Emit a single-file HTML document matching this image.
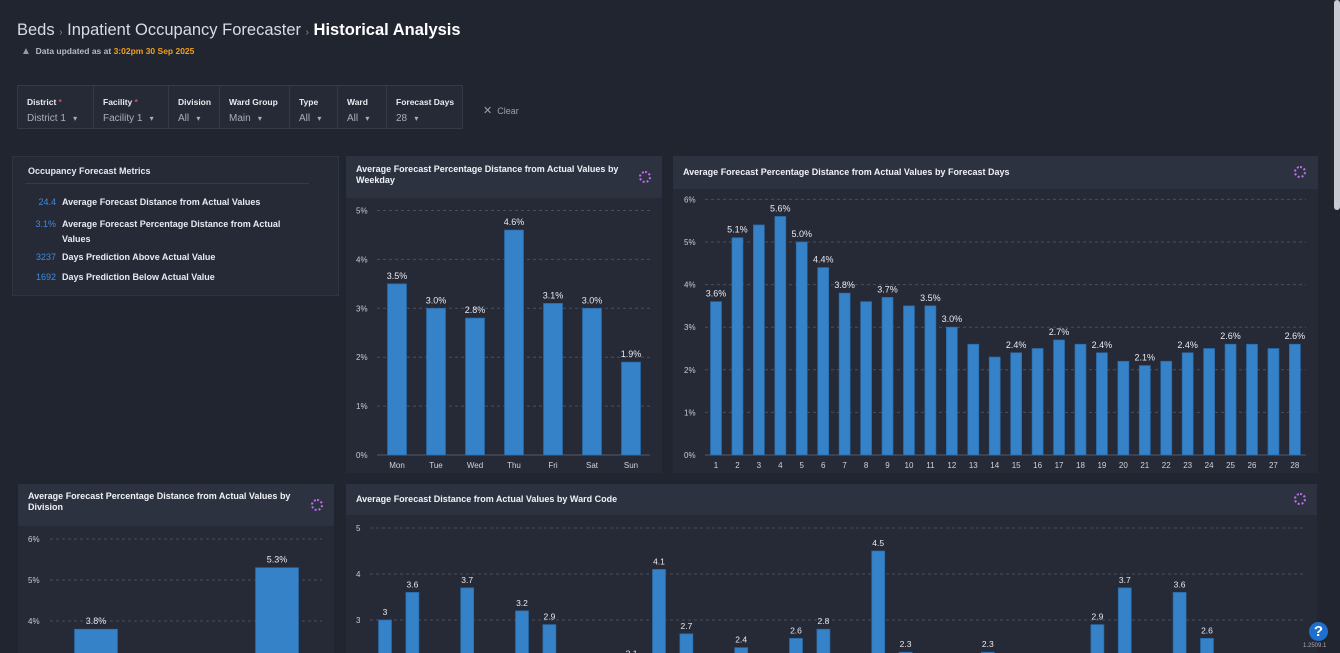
<!DOCTYPE html>
<html><head><meta charset="utf-8"><style>
*{margin:0;padding:0;box-sizing:border-box}
html,body{width:1340px;height:653px;overflow:hidden}
body{background:#21252f;font-family:"Liberation Sans",sans-serif;color:#e6e8ee;position:relative}
.abs{position:absolute}
.panel{position:absolute;background:#262a37;overflow:hidden}
.hdr{position:absolute;left:0;right:0;top:0;background:#2d3241;font-weight:bold;font-size:9px;color:#f0f2f6;padding:0 10px;line-height:11px}
.spin{position:absolute;width:12px;height:12px;border:2px dotted #c46cf0;border-radius:50%}
.f{position:absolute;top:0;height:42px;border-right:1px solid #353a48;padding:11px 9px;white-space:nowrap}
.f b{display:block;font-size:8.5px;color:#e8eaf0}
.f span{display:block;font-size:10px;color:#a9aebb;margin-top:6px}
.f span.d:after{content:" ▾";font-size:8px;margin-left:5px}
.m{position:absolute;left:15px;font-size:9px;font-weight:bold;color:#e8eaf0}
.m i{font-style:normal;color:#3a8ce0;font-weight:normal;display:inline-block;width:28px;text-align:right;margin-right:6px}
svg text{font-family:"Liberation Sans",sans-serif}
</style></head><body>
<div class="abs" style="left:17px;top:21px;font-size:16.5px;color:#d8dbe3;white-space:nowrap">Beds <span style="font-size:10px;color:#888">›</span> Inpatient Occupancy Forecaster <span style="font-size:10px;color:#888">›</span> <b style="color:#fff">Historical Analysis</b></div>
<div class="abs" style="left:21px;top:46px;font-size:8.5px;color:#b5b9c4;font-weight:bold;white-space:nowrap"><span style="color:#999;font-size:10px">▲</span>&nbsp;&nbsp;Data updated as at <span style="color:#f0a020">3:02pm 30 Sep 2025</span></div>
<div class="abs" style="left:17px;top:85px;width:446px;height:44px;background:#252a36;border:1px solid #353a48">
<div class="f" style="left:0;width:76px"><b>District <span style="display:inline;color:#e05050;font-size:8px">*</span></b><span class="d">District 1</span></div>
<div class="f" style="left:76px;width:75px"><b>Facility <span style="display:inline;color:#e05050;font-size:8px">*</span></b><span class="d">Facility 1</span></div>
<div class="f" style="left:151px;width:51px"><b>Division</b><span class="d">All</span></div>
<div class="f" style="left:202px;width:70px"><b>Ward Group</b><span class="d">Main</span></div>
<div class="f" style="left:272px;width:48px"><b>Type</b><span class="d">All</span></div>
<div class="f" style="left:320px;width:49px"><b>Ward</b><span class="d">All</span></div>
<div class="f" style="left:369px;width:76px;border:none"><b>Forecast Days</b><span class="d">28</span></div>
</div>
<div class="abs" style="left:483px;top:104px;font-size:9px;color:#9aa0ad"><span style="font-size:11px">✕</span>&nbsp; Clear</div>

<div class="panel" style="left:12px;top:156px;width:327px;height:140px;border:1px solid #2f3442">
<div class="abs" style="left:15px;top:9px;font-size:9px;font-weight:bold">Occupancy Forecast Metrics</div>
<div class="abs" style="left:12px;top:26px;width:284px;height:1px;background:#363b4a"></div>
<div class="m" style="top:40px"><i>24.4</i>Average Forecast Distance from Actual Values</div>
<div class="m" style="top:60px;line-height:15px;width:280px;padding-left:34px;text-indent:-34px"><i>3.1%</i>Average Forecast Percentage Distance from Actual Values</div>
<div class="m" style="top:95px"><i>3237</i>Days Prediction Above Actual Value</div>
<div class="m" style="top:115px"><i>1692</i>Days Prediction Below Actual Value</div>
</div>

<div class="panel" style="left:346px;top:156px;width:316px;height:317px"><div class="hdr" style="height:42px;padding-top:8px">Average Forecast Percentage Distance from Actual Values by Weekday</div><div class="spin" style="left:293px;top:15px"></div></div>
<div class="panel" style="left:673px;top:156px;width:645px;height:317px"><div class="hdr" style="height:33px;padding-top:11px">Average Forecast Percentage Distance from Actual Values by Forecast Days</div><div class="spin" style="left:621px;top:10px"></div></div>
<div class="panel" style="left:18px;top:484px;width:316px;height:169px"><div class="hdr" style="height:42px;padding-top:7px">Average Forecast Percentage Distance from Actual Values by Division</div><div class="spin" style="left:293px;top:15px"></div></div>
<div class="panel" style="left:346px;top:484px;width:971px;height:169px"><div class="hdr" style="height:31px;padding-top:10px">Average Forecast Distance from Actual Values by Ward Code</div><div class="spin" style="left:948px;top:9px"></div></div>

<svg class="abs" style="left:0;top:0" width="1340" height="653" font-size="8.5">
<g id="wk"></g><g id="fd"></g><g id="dv"></g><g id="wc"></g>
</svg>
<div class="abs" style="left:1334px;top:0;width:6px;height:210px;background:#c8ccd4;border-radius:3px"></div>
<div class="abs" style="left:1309px;top:622px;width:19px;height:19px;border-radius:50%;background:#1f6fd0;color:#fff;font-size:15px;font-weight:bold;text-align:center;line-height:19px">?</div>
<div class="abs" style="left:1303px;top:643px;font-size:6px;color:#aaa">1.2509.1</div>
<script>
const NS="http://www.w3.org/2000/svg";
function el(p,t,a,txt){const e=document.createElementNS(NS,t);for(const k in a)e.setAttribute(k,a[k]);if(txt!==undefined)e.textContent=txt;p.appendChild(e);return e;}
function chart(id,o){const g=document.getElementById(id);
 o.ticks.forEach(v=>{const y=o.y0-v*o.k;el(g,'line',{x1:o.gx1,x2:o.gx2,y1:y,y2:y,stroke:v==0?'#555a66':'#4a4f5c','stroke-dasharray':v==0?'':'3,3'});el(g,'text',{x:o.lx,y:y+3,fill:'#c8ccd4','font-size':8},v+o.suf);});
 o.bars.forEach(b=>{const h=b[1]*o.k;el(g,'rect',{x:b[0]-o.w/2,y:o.y0-h,width:o.w,height:h,fill:'#3582c8',stroke:'#2a6aa8','stroke-width':0.7});
  if(b[2])el(g,'text',{x:b[0],y:o.y0-h-5,fill:'#e8eaf0','text-anchor':'middle','font-size':o.fs||9},b[2]);
  if(b[3]!==undefined)el(g,'text',{x:b[0],y:o.y0+13,fill:'#d0d3da','text-anchor':'middle','font-size':8},b[3]);});}
const wd=[["Mon",3.5],["Tue",3.0],["Wed",2.8],["Thu",4.6],["Fri",3.1],["Sat",3.0],["Sun",1.9]];
chart('wk',{y0:455,k:48.9,ticks:[0,1,2,3,4,5],suf:'%',gx1:377,gx2:650,lx:356,w:19,bars:wd.map((d,i)=>[397+i*39,d[1],d[1].toFixed(1)+'%',d[0]])});
const fv=[3.6,5.1,5.4,5.6,5.0,4.4,3.8,3.6,3.7,3.5,3.5,3.0,2.6,2.3,2.4,2.5,2.7,2.6,2.4,2.2,2.1,2.2,2.4,2.5,2.6,2.6,2.5,2.6];
const fl={1:1,2:1,4:1,5:1,6:1,7:1,9:1,11:1,12:1,15:1,17:1,19:1,21:1,23:1,25:1,28:1};
chart('fd',{y0:455,k:42.6,ticks:[0,1,2,3,4,5,6],suf:'%',gx1:705,gx2:1306,lx:684,w:11,bars:fv.map((v,i)=>[716+i*21.44,v,fl[i+1]?v.toFixed(1)+'%':'',i+1])});
chart('dv',{y0:785,k:41,ticks:[4,5,6],suf:'%',gx1:50,gx2:322,lx:28,w:43,bars:[[96,3.8,'3.8%'],[277,5.3,'5.3%']]});
const wc=[[0,3],[1,3.6],[3,3.7],[5,3.2],[6,2.9],[9,2.1],[10,4.1],[11,2.7],[13,2.4],[15,2.6],[16,2.8],[18,4.5],[19,2.3],[22,2.3],[26,2.9],[27,3.7],[29,3.6],[30,2.6]];
chart('wc',{y0:758,k:46,ticks:[3,4,5],suf:'',gx1:370,gx2:1305,lx:356,w:13,fs:8.5,bars:wc.map(d=>[385+d[0]*27.4,d[1],String(d[1])])});
</script>
</body></html>
